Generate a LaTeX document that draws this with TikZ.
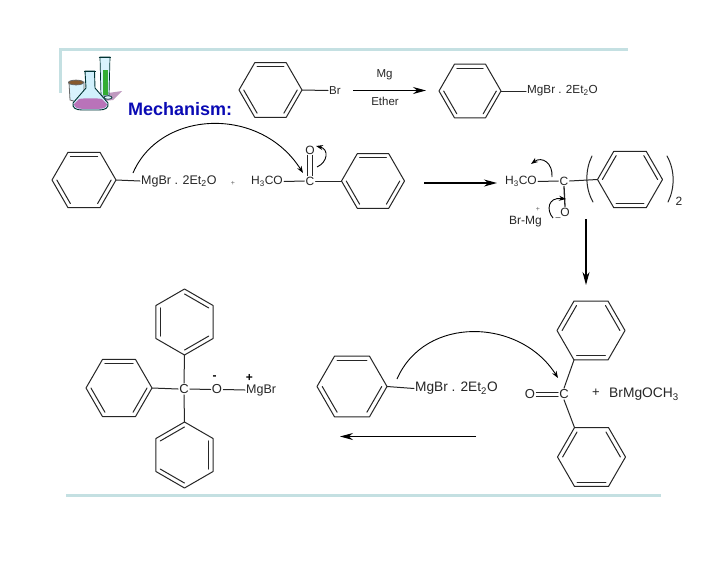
\documentclass[tikz,border=0pt]{standalone}
\usepackage{fontspec}
\setmainfont{Liberation Sans}
\usetikzlibrary{arrows.meta,calc}
\definecolor{frame}{HTML}{C4E0E2}
\definecolor{bluetitle}{HTML}{0A0AB4}
\tikzset{
 bond/.style={line width=1pt,black!85,line cap=round,line join=round},
 lab/.style={inner sep=1pt,text=black!85,font=\fontsize{#1}{#1}\selectfont},
 lab/.default=11.5,
 rxn/.style={line width=1.1pt,black,-{Stealth[length=13pt,width=7pt]}},
 curly/.style={line width=0.9pt,black,-{Stealth[length=7pt,width=5pt]}},
 small/.style={inner sep=0pt,text=black!60,font=\fontsize{7}{7}\selectfont},
 charge/.style={inner sep=0pt,text=black,font=\bfseries\fontsize{12}{12}\selectfont},
}
\newcommand{\benzring}[6]{%
 \coordinate (#1-c) at (#2,#3);
 \foreach \k in {0,...,5}{\coordinate (#1-\k) at ({#2+#4*cos(#5+60*\k)},{#3-#4*sin(#5+60*\k)});}
 \draw[bond] (#1-0)--(#1-1)--(#1-2)--(#1-3)--(#1-4)--(#1-5)--cycle;
 \foreach \k in {#6}{\pgfmathtruncatemacro\nxt{mod(\k+1,6)}
  \draw[bond] ($(#1-c)!.85!(#1-\k)$) -- ($(#1-c)!.85!(#1-\nxt)$);}
}
\begin{document}
\begin{tikzpicture}[x=1pt,y=-1pt]
\useasboundingbox (0,0) rectangle (728,563);
\fill[white] (0,0) rectangle (728,563);
% frame
\fill[frame] (58.5,47.5) rectangle (628,50.5);
\fill[frame] (58.5,47.5) rectangle (61.5,93);
\fill[frame] (66,494) rectangle (661,497);
% flask icon
\fill[black!25!violet!40] (108,93) -- (122,91) -- (113,100) -- (104,101) -- cycle;
\draw[line width=.7pt,black!60!teal,fill=cyan!15] (100,57) -- (101,96) -- (109,96) -- (110,57) -- cycle;
\fill[green!60!black!80] (102.5,70) rectangle (108,95);
\draw[line width=.7pt,black!60!teal,fill=cyan!12] (108,97.5) ellipse (4 and 1.7);
\draw[line width=.9pt,black!60!teal] (98.5,57) -- (111,57);
\draw[line width=.8pt,black!60,fill=cyan!15] (69,82) -- (70,100) to[bend right=15] (84,101) -- (84,82) -- cycle;
\draw[line width=.8pt,black!60,fill=brown!70!black] (76,82.5) ellipse (7.5 and 2.4);
\draw[line width=.9pt,black!60!teal,fill=cyan!18] (85,71) -- (86,88) -- (73,103) .. controls (72,108) and (76,110) .. (82,110) -- (99,110) .. controls (105,110) and (109,108) .. (108,103) -- (95,88) -- (94.5,71) -- cycle;
\fill[violet!55!white] (79,99) .. controls (84,98) and (97,98) .. (102,99) -- (107,104) .. controls (107,107) and (104,108.8) .. (99,108.8) -- (82,108.8) .. controls (77,108.8) and (74,107) .. (74,104) -- cycle;
\draw[line width=.9pt,black!60!teal] (84,71) -- (96,71);
\node[inner sep=0pt,anchor=base west,text=bluetitle,font=\bfseries\fontsize{18}{18}\selectfont] (mech) at (128,115) {Mechanism:};
% top row
\benzring{a}{270.5}{90}{31.5}{0}{1,3,5}
\node[lab,anchor=west] (abr) at (328,90.5) {Br};
\draw[bond] (a-0) -- (abr.west);
\coordinate (t1) at (353,90.5); \coordinate (t2) at (426,90.5);
\draw[rxn] (t1) -- (t2);
\node[lab] (mg) at (384.5,75) {Mg};
\node[lab] (ether) at (385,101) {Ether};
\benzring{b}{470}{91}{31}{0}{1,3,5}
\node[lab=11.7,anchor=west] (bm) at (526,91) {MgBr . 2Et\textsubscript{2}O};
\draw[bond] (b-0) -- (bm.west);
% row 2 left
\benzring{c}{84}{180}{32}{0}{1,3,5}
\node[lab=12.5,anchor=west] (cm) at (140,181) {MgBr . 2Et\textsubscript{2}O};
\draw[bond] (c-0) -- (cm.west);
\node[small] (plus1) at (233,183) {+};
\node[lab=12,anchor=west] (me) at (250,181.5) {H\textsubscript{3}CO};
\node[lab=12] (cc) at (310,181) {C};
\node[lab=12] (co) at (310,150) {O};
\benzring{d}{373}{181}{31.5}{0}{1,3,5}
\draw[bond] (me.east) -- (cc.west);
\draw[bond] (cc.east) -- (d-3);
\draw[bond] ([xshift=-2.5pt]co.south) -- ([xshift=-2.5pt]cc.north);
\draw[bond] ([xshift=2.5pt]co.south) -- ([xshift=2.5pt]cc.north);
\coordinate (e1) at (133,173); \coordinate (e2) at (303,173);
\draw[curly] (e1) .. controls (160,110) and (260,105) .. (e2);
\coordinate (f1) at (317,167); \coordinate (f2) at (316,146);
\draw[curly] (f1) .. controls (328,162) and (329,149) .. (f2);
% row 2 arrow
\coordinate (g1) at (424,183); \coordinate (g2) at (497,183);
\draw[rxn] (g1) -- (g2);
% row 2 right
\node[lab=12,anchor=west] (hme) at (504,181.5) {H\textsubscript{3}CO};
\node[lab=12] (hc) at (564,181) {C};
\node[lab=12] (ho) at (565,212) {O};
\benzring{h}{630}{179.5}{32.5}{0}{0,2,4}
\draw[bond] (hme.east) -- (hc.west);
\draw[bond] (hc.east) -- (h-3);
\draw[bond,line width=1.3pt] (hc.south) -- (ho.north);
\coordinate (lp1) at (592,156); \coordinate (lp2) at (593,202);
\coordinate (rp1) at (667,156); \coordinate (rp2) at (668,202);
\draw[bond] (lp1) .. controls (585,170) and (585,188) .. (lp2);
\draw[bond] (rp1) .. controls (675,170) and (675,188) .. (rp2);
\node[lab=12] (two) at (679,201.5) {2};
\coordinate (i1) at (552,177); \coordinate (i2) at (531,164);
\draw[curly] (i1) .. controls (553,163) and (542,156) .. (i2);
\coordinate (j1) at (553,218); \coordinate (j2) at (566,199);
\draw[curly] (j1) .. controls (546,210) and (548,197) .. (j2);
\node[small] (plus2) at (538,209) {+};
\node[lab=12] (brmg) at (525.5,222) {Br-Mg};
\node[inner sep=0pt,text=black!85,font=\fontsize{9}{9}\selectfont] (minus) at (558,219) {--};
% down arrow
\coordinate (k1) at (586,219); \coordinate (k2) at (586,285);
\draw[rxn] (k1) -- (k2);
% bottom right
\benzring{m}{591}{330.5}{34}{0}{0,2,4}
\benzring{n}{591.5}{457}{34}{0}{0,2,4}
\node[lab=13] (nc) at (564,394) {C};
\node[lab=13] (no) at (530,394) {O};
\draw[bond] (nc.north) -- (m-4);
\draw[bond] (nc.south) -- (n-2);
\draw[bond] ([yshift=-2pt]no.east) -- ([yshift=-2pt]nc.west);
\draw[bond] ([yshift=2pt]no.east) -- ([yshift=2pt]nc.west);
\node[lab=13] (pl) at (596,393) {+};
\node[lab=13.8,anchor=west] (brm) at (608,394.5) {BrMgOCH\textsubscript{3}};
% bottom middle
\benzring{p}{352}{386.5}{35}{0}{1,3,5}
\node[lab=13.7,anchor=west] (pm) at (414,388.5) {MgBr . 2Et\textsubscript{2}O};
\draw[bond] (p-0) -- (pm.west);
\coordinate (q1) at (397,379); \coordinate (q2) at (558,378);
\draw[curly] (q1) .. controls (425,315) and (520,318) .. (q2);
\coordinate (r1) at (476,436.5); \coordinate (r2) at (340,436.5);
\draw[rxn] (r1) -- (r2);
% triphenyl
\benzring{s}{184.5}{322}{33}{30}{0,2,4}
\benzring{u}{119}{388}{33}{0}{1,3,5}
\benzring{v}{184.5}{455}{33}{30}{1,3,5}
\node[lab=13] (tc) at (184,389) {C};
\node[lab=13] (to) at (217,389.5) {O};
\node[lab=12.5,anchor=west] (tm) at (245,390) {MgBr};
\node[charge] (tminus) at (214.5,378) {-};
\node[charge] (tplus) at (249.5,378) {+};
\draw[bond] (s-4) -- (tc.north);
\draw[bond] (v-1) -- (tc.south);
\draw[bond] (u-0) -- (tc.west);
\draw[bond] (tc.east) -- (to.west);
\draw[bond] (to.east) -- (tm.west);
\end{tikzpicture}
\end{document}
